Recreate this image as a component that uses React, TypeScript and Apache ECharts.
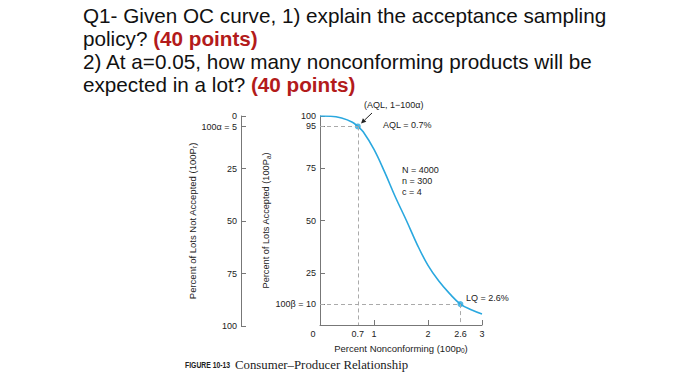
import React, { useEffect, useRef } from "react";
import * as echarts from "echarts";

const defectPct = [0, 0.2, 0.4, 0.6, 0.7, 0.8, 1.0, 1.2, 1.4, 1.6, 1.8, 2.0, 2.2, 2.4, 2.6, 2.8, 3.0];
const acceptPct = [100, 99.9, 99, 97, 95, 92.5, 84, 73, 61, 50, 38.5, 28.5, 21, 15, 10, 7.3, 5.3];
const keyPoints = [
  [0.7, 95],
  [2.6, 10],
];
const xLabels = [0, 0.7, 1, 2, 2.6, 3];
const xTicks = [1, 2, 3];
const yLabels = [10, 25, 50, 75, 95, 100];
const leftLabels = [0, 5, 25, 50, 75, 100];
const titleLines = [
  ["Q1- Given OC curve, 1) explain the acceptance sampling", ""],
  ["policy? ", "(40 points)"],
  ["2) At a=0.05, how many nonconforming products will be", ""],
  ["expected in a lot? ", "(40 points)"],
];

const FONT = "'Liberation Sans', Arial, sans-serif";
const AXIS_COLOR = "#777";
const LABEL_COLOR = "#222";
const CURVE = "#2aa8df";

export default function App() {
  const ref = useRef<HTMLDivElement>(null);
  useEffect(() => {
    if (!ref.current) return;
    const chart = echarts.init(ref.current, null, { renderer: "svg" });
    const labelStyle = { fontFamily: FONT, fontSize: 9, color: LABEL_COLOR };
    const subRich = {
      s: { fontFamily: FONT, fontSize: 6.5, color: LABEL_COLOR, verticalAlign: "bottom", padding: [4, 0, 0, 0] },
    };
    const graphics: any[] = [];
    titleLines.forEach((ln, i) => {
      graphics.push({
        type: "text",
        left: 83,
        top: 5 + i * 23,
        style: {
          text: `{n|${ln[0]}}` + (ln[1] ? `{r|${ln[1]}}` : ""),
          rich: {
            n: { fontFamily: FONT, fontSize: 20.7, fill: "#111" },
            r: { fontFamily: FONT, fontSize: 20.7, fill: "#b31b1b", fontWeight: "bold" },
          },
        },
      });
    });
    const ann = (text: string, x: number, y: number) => ({
      type: "text",
      x,
      y,
      style: { text, fontFamily: FONT, fontSize: 9, fill: LABEL_COLOR, verticalAlign: "middle" },
    });
    graphics.push(ann("(AQL, 1\u2212100\u03b1)", 364, 105));
    graphics.push(ann("AQL = 0.7%", 383, 125));
    graphics.push(ann("N = 4000", 402, 170));
    graphics.push(ann("n = 300", 402, 181));
    graphics.push(ann("c = 4", 402, 192));
    graphics.push(ann("LQ = 2.6%", 466, 298));
    graphics.push({
      type: "line",
      shape: { x1: 372, y1: 113, x2: 364.6, y2: 120.05 },
      style: { stroke: "#222", lineWidth: 1 },
    });
    graphics.push({
      type: "polygon",
      shape: { points: [[361, 123.5], [366.3, 121.8], [362.9, 118.3]] },
      style: { fill: "#222" },
    });
    graphics.push({
      type: "text",
      x: 185,
      y: 365,
      scaleX: 0.72,
      style: {
        text: "FIGURE 10-13",
        verticalAlign: "middle",
        fontFamily: FONT,
        fontSize: 9.5,
        fontWeight: "bold",
        fill: "#222",
      },
    });
    graphics.push({
      type: "text",
      x: 235,
      y: 365,
      style: {
        text: "Consumer\u2013Producer Relationship",
        verticalAlign: "middle",
        fontFamily: "'Liberation Serif', 'Times New Roman', serif",
        fontSize: 12.8,
        fill: "#222",
      },
    });

    const option: any = {
      animation: false,
      backgroundColor: "#fff",
      grid: [
        { left: 320, top: 116, width: 162, height: 209 },
        { left: 241, top: 116, width: 1, height: 210 },
      ],
      xAxis: [
        {
          gridIndex: 0,
          type: "value",
          min: 0,
          max: 3,
          splitLine: { show: false },
          axisLine: { show: true, lineStyle: { color: AXIS_COLOR } },
          axisTick: { show: true, inside: true, length: 5, customValues: xTicks, lineStyle: { color: AXIS_COLOR } },
          axisLabel: {
            ...labelStyle,
            margin: 4,
            customValues: xLabels,
            formatter: (v: number) => (v === 0 ? "{z|0}" : String(v)),
            rich: { z: { ...labelStyle, padding: [0, 14, 0, 0] } },
          },
          name: "Percent Nonconforming (100p{s|0})",
          nameLocation: "middle",
          nameGap: 18,
          nameTextStyle: { ...labelStyle, fontSize: 9.5, rich: subRich },
        },
        {
          gridIndex: 1,
          type: "value",
          show: false,
        },
      ],
      yAxis: [
        {
          gridIndex: 0,
          type: "value",
          min: 0,
          max: 100,
          splitLine: { show: false },
          axisLine: { show: true, lineStyle: { color: AXIS_COLOR } },
          axisTick: { show: true, inside: true, length: 5, customValues: yLabels, lineStyle: { color: AXIS_COLOR } },
          axisLabel: {
            ...labelStyle,
            margin: 4,
            customValues: yLabels,
            formatter: (v: number) => (v === 10 ? "100\u03b2 = 10" : String(v)),
          },
          name: "Percent of Lots Accepted (100P{s|a})",
          nameLocation: "middle",
          nameGap: 45,
          nameRotate: 90,
          nameTextStyle: { ...labelStyle, fontSize: 9.2, rich: subRich },
        },
        {
          gridIndex: 1,
          type: "value",
          min: 0,
          max: 100,
          inverse: true,
          splitLine: { show: false },
          axisLine: { show: true, lineStyle: { color: AXIS_COLOR } },
          axisTick: { show: true, inside: true, length: 5, customValues: leftLabels, lineStyle: { color: AXIS_COLOR } },
          axisLabel: {
            ...labelStyle,
            margin: 4,
            customValues: leftLabels,
            formatter: (v: number) => (v === 5 ? "100\u03b1 = 5" : String(v)),
          },
          name: "Percent of Lots Not Accepted (100P{s|r})",
          nameLocation: "middle",
          nameGap: 42,
          nameRotate: 90,
          nameTextStyle: { ...labelStyle, fontSize: 9.5, rich: subRich },
        },
      ],
      series: [
        {
          type: "line",
          xAxisIndex: 0,
          yAxisIndex: 0,
          data: defectPct.map((p, i) => [p, acceptPct[i]]),
          smooth: 0.4,
          showSymbol: false,
          lineStyle: { color: CURVE, width: 1.6 },
          silent: true,
          markLine: {
            silent: true,
            symbol: "none",
            label: { show: false },
            lineStyle: { color: "#aaa", type: [4, 3], width: 1 },
            data: [
              [{ coord: [0, keyPoints[0][1]] }, { coord: keyPoints[0] }],
              [{ coord: keyPoints[0] }, { coord: [keyPoints[0][0], 0] }],
              [{ coord: [0, keyPoints[1][1]] }, { coord: keyPoints[1] }],
              [{ coord: keyPoints[1] }, { coord: [keyPoints[1][0], 0] }],
            ],
          },
          z: 3,
        },
        {
          type: "scatter",
          xAxisIndex: 0,
          yAxisIndex: 0,
          data: keyPoints,
          symbol: "circle",
          symbolSize: 6,
          itemStyle: { color: CURVE },
          z: 4,
        },
      ],
      graphic: graphics,
    };
    chart.setOption(option);
    return () => chart.dispose();
  }, []);
  return <div ref={ref} style={{ position: "fixed", left: 0, top: 0, width: 700, height: 376 }} />;
}
